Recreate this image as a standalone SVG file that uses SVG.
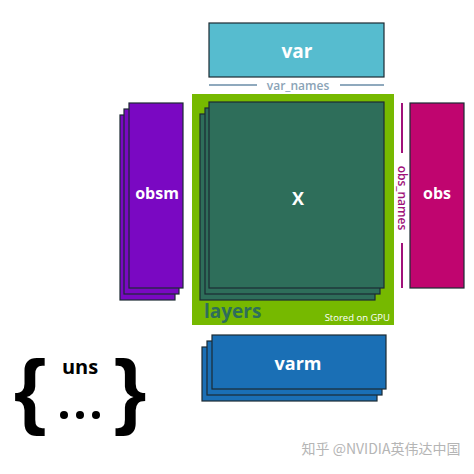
<svg xmlns="http://www.w3.org/2000/svg" width="474" height="474" viewBox="0 0 474 474">
<style>
.lbl{font-family:"Open Sans","Liberation Sans",sans-serif;font-weight:700;fill:#fff;text-anchor:middle;dominant-baseline:central}
.edge{stroke:#1c2a33;stroke-width:1.2}
.nm{font-family:"Open Sans","Liberation Sans",sans-serif;font-weight:600;font-size:12px;text-anchor:middle;dominant-baseline:central}
</style>
<rect width="474" height="474" fill="#fff"/>
<g id="var">
<rect x="209" y="23" width="175" height="54" fill="#56bccf" class="edge"/>
<text class="lbl" x="297" y="51" font-size="19">var</text>
</g>
<g id="connectors">
<line x1="209" y1="85" x2="257" y2="85" stroke="#8fa9bd" stroke-width="2"/>
<line x1="340" y1="85" x2="384" y2="85" stroke="#8fa9bd" stroke-width="2"/>
<text class="nm" x="298" y="85" fill="#8aa3b6">var_names</text>
<line x1="402" y1="103" x2="402" y2="153" stroke="#a0127a" stroke-width="2"/>
<line x1="402" y1="243" x2="402" y2="288" stroke="#a0127a" stroke-width="2"/>
<text class="nm" x="402" y="198" fill="#a0127a" transform="rotate(90 402 198)">obs_names</text>
</g>
<g id="layers">
<rect x="192" y="94" width="202" height="231" fill="#76b900"/>
<text x="204" y="318" font-family="Open Sans, Liberation Sans, sans-serif" font-weight="700" font-size="19" fill="#2e6e5a">layers</text>
<text x="390" y="321" font-family="Open Sans, Liberation Sans, sans-serif" font-size="9.5" fill="#fff" text-anchor="end">Stored on GPU</text>
</g>
<g id="X">
<rect x="200" y="114" width="175" height="186" fill="#2e6e5a" class="edge"/>
<rect x="205" y="108" width="175" height="186" fill="#2e6e5a" class="edge"/>
<rect x="209" y="102" width="175" height="186" fill="#2e6e5a" class="edge"/>
<text class="lbl" x="298" y="198" font-size="18" font-weight="600">X</text>
</g>
<g id="obsm">
<rect x="120" y="115" width="55" height="185" fill="#7a08c2" class="edge"/>
<rect x="124" y="109" width="55" height="185" fill="#7a08c2" class="edge"/>
<rect x="129" y="103" width="54" height="185" fill="#7a08c2" class="edge"/>
<text class="lbl" x="157" y="193" font-size="16">obsm</text>
</g>
<g id="obs">
<rect x="410" y="103" width="54" height="185" fill="#c0056f" class="edge"/>
<text class="lbl" x="437" y="193" font-size="16">obs</text>
</g>
<g id="varm">
<rect x="202" y="347" width="175" height="54" fill="#1a6fb5" class="edge"/>
<rect x="207" y="341" width="175" height="54" fill="#1a6fb5" class="edge"/>
<rect x="212" y="335" width="174" height="54" fill="#1a6fb5" class="edge"/>
<text class="lbl" x="298" y="363" font-size="18">varm</text>
</g>
<g id="uns">
<text x="30" y="419" font-family="Liberation Sans, sans-serif" font-weight="700" font-size="84" text-anchor="middle" fill="#000">{</text>
<text x="130" y="419" font-family="Liberation Sans, sans-serif" font-weight="700" font-size="84" text-anchor="middle" fill="#000">}</text>
<text x="80" y="374" font-family="Open Sans, Liberation Sans, sans-serif" font-weight="700" font-size="20" text-anchor="middle" fill="#000">uns</text>
<circle cx="64" cy="415" r="4" fill="#000"/>
<circle cx="80" cy="415" r="4" fill="#000"/>
<circle cx="96" cy="415" r="4" fill="#000"/>
</g>
<text x="381" y="454" font-family="Noto Sans CJK SC, sans-serif" font-size="14" fill="#b5b5b5" text-anchor="middle">知乎 @NVIDIA英伟达中国</text>
</svg>
